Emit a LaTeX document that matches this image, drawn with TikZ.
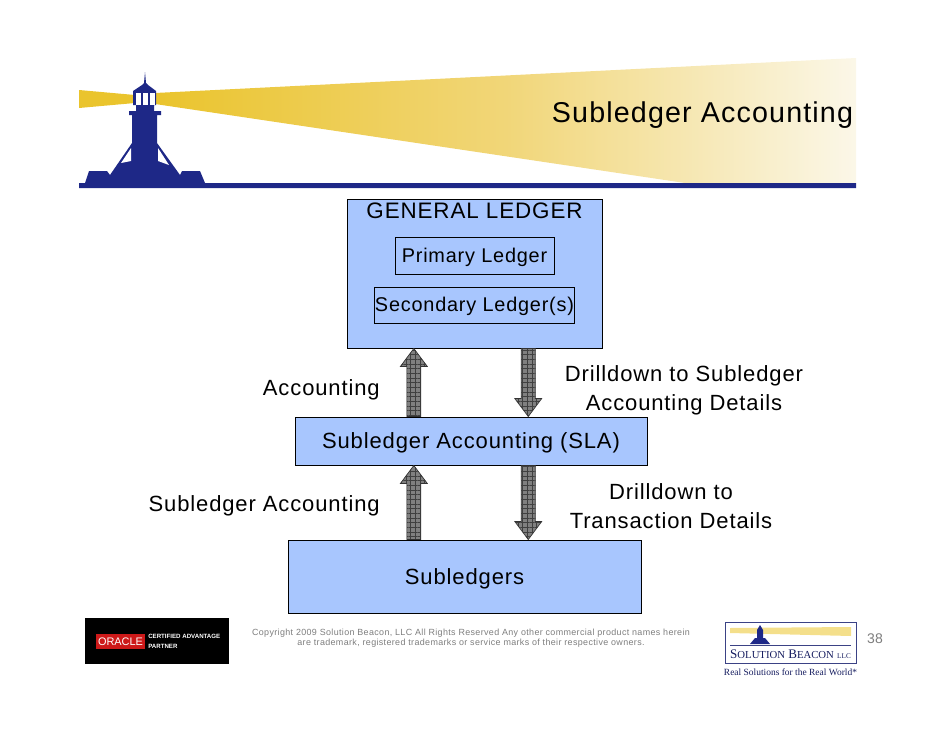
\documentclass[tikz,border=0pt]{standalone}
\usepackage{fontspec}
\setmainfont[LetterSpace=4]{Liberation Sans}
\newfontfamily\plainsans{Liberation Sans}
\newfontfamily\logoserif{Liberation Serif}
\usepackage{xcolor}
\usepackage{tikz}
\usetikzlibrary{arrows.meta,positioning,calc,patterns.meta}
\definecolor{navy}{RGB}{30,40,135}
\definecolor{beamyellow}{RGB}{234,196,45}
\definecolor{beammid}{RGB}{241,214,120}
\definecolor{beamfade}{RGB}{251,247,232}
\definecolor{boxblue}{RGB}{168,198,254}
\definecolor{hatchgray}{RGB}{128,128,128}
\definecolor{notegray}{RGB}{125,125,125}
\definecolor{oraclered}{RGB}{205,25,25}
\tikzset{
  ledgerbox/.style={draw=black, line width=0.7pt, fill=boxblue, inner sep=0pt, text depth=-2.2pt, font=\fontsize{16.5}{21.75}\selectfont},
  innerbox/.style={draw=black, line width=0.7pt, fill=none, inner sep=0pt, font=\fontsize{14.9}{18}\selectfont},
  flowlabel/.style={align=center, inner sep=0pt, font=\fontsize{16.5}{21.75}\selectfont},
  notelabel/.style={align=center, inner sep=0pt, text=notegray, font=\fontsize{6.7}{7.6}\selectfont},
  blockflow/.style={draw=black!80, line width=0.5pt, preaction={fill=hatchgray},
    pattern={Hatch[angle=0,distance=3.5pt,line width=0.45pt]}, pattern color=black!75,
    to path={
      ($(\tikztostart)!5.25pt!90:(\tikztotarget)$)
      -- ($(\tikztotarget)!13.5pt!(\tikztostart)!5.25pt!90:(\tikztotarget)$)
      -- ($(\tikztotarget)!13.5pt!(\tikztostart)!10.1pt!90:(\tikztotarget)$)
      -- (\tikztotarget)
      -- ($(\tikztotarget)!13.5pt!(\tikztostart)!10.1pt!-90:(\tikztotarget)$)
      -- ($(\tikztotarget)!13.5pt!(\tikztostart)!5.25pt!-90:(\tikztotarget)$)
      -- ($(\tikztostart)!5.25pt!-90:(\tikztotarget)$) -- cycle}}
}
\begin{document}
\begin{tikzpicture}[x=0.75pt,y=-0.75pt]
\useasboundingbox (0,0) rectangle (942,728);
% Banner
\shade[left color=beamyellow, right color=beamfade, middle color=beammid]
  (155,93) -- (856,58) -- (856,183) -- (685,183) -- (155,104) -- cycle;
\fill[beamyellow] (79,90) -- (135,95) -- (135,103) -- (79,108) -- cycle;
\fill[navy] (79,183) -- (85,183) -- (89,171) -- (107,171) -- (110,175) -- (132,143)
  -- (132,115) -- (129,115) -- (129,111) -- (136,111) -- (136,105) -- (133,105) -- (133,91)
  -- (142,85) -- (144,83) -- (145,72) -- (146,83) -- (148,85) -- (156,91) -- (156,105)
  -- (154,105) -- (154,111) -- (161,111) -- (161,115) -- (157,115) -- (157,143) -- (180,175)
  -- (182,171) -- (200,171) -- (205,183) -- (856,183) -- (856,188) -- (79,188) -- cycle;
\foreach \winx in {136,143,150}
  \fill[white] (\winx,93) rectangle +(4.5,12);
\fill[white] (131,148) -- (131,161) -- (121,163) -- cycle;
\fill[white] (158,148) -- (158,161) -- (169,165) -- cycle;
\node[inner sep=0pt, anchor=base, font=\fontsize{21.5}{26}\selectfont] (title) at (702.5,122) {Subledger Accounting};

% Ledger boxes
\node[ledgerbox, minimum width=191.25pt, minimum height=111.75pt] (gl) at (474.5,273.5) {};
\node[flowlabel, font=\fontsize{16.8}{21.75}\selectfont, below=2.7pt of gl.north] (gltitle) {GENERAL LEDGER};
\node[innerbox, text depth=-1.2pt, minimum width=119.25pt, minimum height=27.75pt, below=28.5pt of gl.north] (primary) {Primary Ledger};
\node[innerbox, minimum width=150pt, minimum height=27pt, below=9.75pt of primary] (secondary) {Secondary Ledger(s)};
\node[ledgerbox, minimum width=264pt, minimum height=36pt] (sla) at (471,441) {Subledger Accounting (SLA)};
\node[ledgerbox, minimum width=264.75pt, minimum height=54.75pt] (subledgers) at (464.5,576.5) {Subledgers};

% Arrow ends
\coordinate (glup) at ($(gl.south west)!.263!(gl.south east)$);
\coordinate (gldown) at ($(gl.south west)!.71!(gl.south east)$);
\coordinate (slaup) at (glup |- sla.north);
\coordinate (sladown) at (gldown |- sla.north);
\coordinate (slaup2) at (glup |- sla.south);
\coordinate (sladown2) at (gldown |- sla.south);
\coordinate (subup) at (glup |- subledgers.north);
\coordinate (subdown) at (gldown |- subledgers.north);

% Connections
\draw[blockflow] (slaup) to (glup);
\draw[blockflow] (gldown) to (sladown);
\draw[blockflow] (subup) to (slaup2);
\draw[blockflow] (sladown2) to (subdown);

% Labels
\node[flowlabel, anchor=east] (accounting) at (380,389.5) {Accounting};
\node[flowlabel, anchor=east] (subaccounting) at (380,505.5) {Subledger Accounting};
\node[flowlabel] (drillsla) at (684,390) {Drilldown to Subledger\\Accounting Details};
\node[flowlabel] (drilltx) at (671,506.5) {Drilldown to\\Transaction Details};

% Footer
\node[notelabel] (copyright) at (471,638) {Copyright 2009 Solution Beacon, LLC All Rights Reserved Any other commercial product names herein\\are trademark, registered trademarks or service marks of their respective owners.};
\node[inner sep=0pt, text=notegray, font=\plainsans\fontsize{10.5}{12}\selectfont] (pagenum) at (875,638.5) {38};

% Oracle logo
\fill[black] (85,618) rectangle (229,664);
\fill[oraclered] (96,634) rectangle (145,649);
\node[inner sep=0pt, text=white, font=\plainsans\fontsize{8.2}{10}\selectfont] (oracle) at (120.5,641.5) {ORACLE};
\node[inner sep=0pt, text=white, align=left, anchor=west, font=\plainsans\bfseries\fontsize{4.6}{7.4}\selectfont] (partner) at (148,641) {CERTIFIED ADVANTAGE\\PARTNER};

% Solution Beacon logo
\draw[navy!70!gray, line width=0.6pt] (725,622) rectangle (856,663);
\fill[beamyellow!55!white] (730,628) -- (851,627) -- (851,636) -- (730,633) -- cycle;
\fill[navy] (750,644) -- (755,638) -- (757,638) -- (757,630) -- (760,625) -- (763,630) -- (763,638) -- (765,638) -- (770,644) -- cycle;
\draw[navy!70!gray, line width=0.6pt] (730,645) -- (851,645);
\node[inner sep=0pt, text=navy!70!black, font=\logoserif\fontsize{9.8}{11}\selectfont] (beacon) at (790.5,654) {S\scalebox{.82}{OLUTION} B\scalebox{.82}{EACON} \scalebox{.55}{LLC}};
\node[inner sep=0pt, text=navy!70!black, font=\logoserif\fontsize{7.1}{8}\selectfont] (slogan) at (790.5,672) {Real Solutions for the Real World*};
\end{tikzpicture}
\end{document}
